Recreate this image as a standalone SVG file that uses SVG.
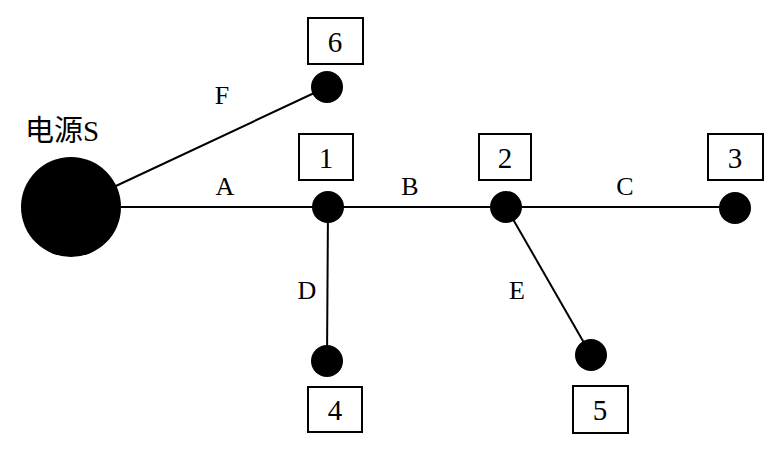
<svg xmlns="http://www.w3.org/2000/svg" width="779" height="451" viewBox="0 0 779 451">
<style>
.ln{stroke:#000;stroke-width:2;fill:none}
.dot{fill:#000}
.box{fill:#fff;stroke:#000;stroke-width:2}
.num{font-family:'Liberation Serif','Times New Roman','DejaVu Serif',serif;font-size:29px;text-anchor:middle;fill:#000}
.lbl{font-family:'Liberation Serif','Times New Roman','DejaVu Serif',serif;font-size:26px;text-anchor:middle;fill:#000}
.src{font-family:'Liberation Serif','Times New Roman','Noto Sans CJK SC',serif;font-size:29px;fill:#000}
</style>
<rect width="779" height="451" fill="#fff"/>
<g id="connectors">
<line class="ln" x1="71" y1="207" x2="735" y2="207"/>
<line class="ln" x1="71" y1="207" x2="327" y2="87"/>
<line class="ln" x1="328" y1="207" x2="327" y2="361"/>
<line class="ln" x1="506" y1="207" x2="591" y2="355"/>
<text class="lbl" x="222" y="104">F</text>
<text class="lbl" x="225" y="195">A</text>
<text class="lbl" x="410" y="195">B</text>
<text class="lbl" x="625" y="195">C</text>
<text class="lbl" x="307" y="299">D</text>
<text class="lbl" x="517" y="299">E</text>
</g>
<g id="source">
<circle class="dot" cx="71" cy="207" r="50"/>
<text class="src" x="25" y="141">电源S</text>
</g>
<g id="node1">
<circle class="dot" cx="328" cy="207" r="16"/>
<rect class="box" x="299" y="134" width="54" height="46"/>
<text class="num" x="326" y="168">1</text>
</g>
<g id="node2">
<circle class="dot" cx="506" cy="207" r="16"/>
<rect class="box" x="479" y="134" width="52" height="46"/>
<text class="num" x="505" y="168">2</text>
</g>
<g id="node3">
<circle class="dot" cx="735" cy="208" r="16"/>
<rect class="box" x="708" y="134" width="55" height="46"/>
<text class="num" x="735" y="168">3</text>
</g>
<g id="node4">
<circle class="dot" cx="327" cy="361" r="16"/>
<rect class="box" x="308" y="387" width="54" height="45"/>
<text class="num" x="335" y="420">4</text>
</g>
<g id="node5">
<circle class="dot" cx="591" cy="355" r="16"/>
<rect class="box" x="573" y="386" width="55" height="47"/>
<text class="num" x="600" y="420">5</text>
</g>
<g id="node6">
<circle class="dot" cx="327" cy="87" r="16"/>
<rect class="box" x="308" y="18" width="55" height="46"/>
<text class="num" x="335" y="52">6</text>
</g>
</svg>
